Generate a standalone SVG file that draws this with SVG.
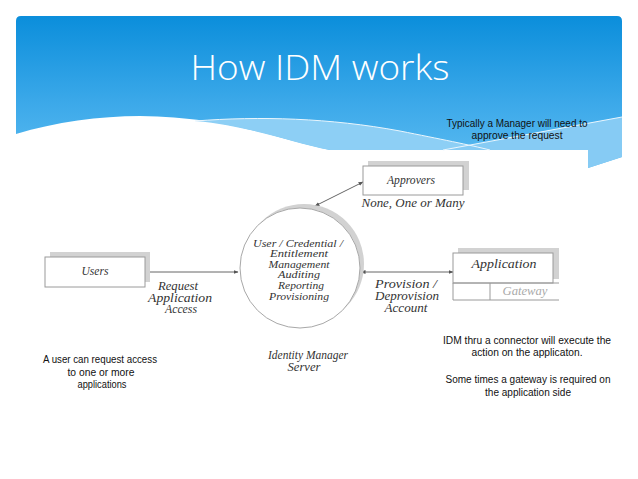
<svg xmlns="http://www.w3.org/2000/svg" width="638" height="479" viewBox="0 0 638 479">
<defs>
<linearGradient id="hdr" x1="0" y1="0" x2="0" y2="1" gradientUnits="objectBoundingBox">
<stop offset="0" stop-color="#0b8edb"/>
<stop offset="0.6" stop-color="#3eaaea"/>
<stop offset="1" stop-color="#5cbcf1"/>
</linearGradient>
<marker id="ah" viewBox="0 0 10 10" refX="9" refY="5" markerWidth="5" markerHeight="5" orient="auto-start-reverse" markerUnits="userSpaceOnUse">
<path d="M0,1 L10,5 L0,9 Z" fill="#555"/>
</marker>
<style>
.hand{font-family:"Liberation Serif","DejaVu Serif",serif;font-style:italic;fill:#333;font-size:11.5px;text-anchor:middle}
.inner{font-size:10.5px}
.note{font-family:"Liberation Sans","DejaVu Sans",sans-serif;fill:#111;font-size:10px;text-anchor:middle}
.box{fill:#fff;stroke:#9a9a9a;stroke-width:1}
.shadow{fill:#d2d2d2}
.conn{stroke:#666;stroke-width:1;fill:none;marker-start:url(#ah);marker-end:url(#ah)}
</style>
</defs>
<rect width="638" height="479" fill="#fff"/>
<g id="header">
<path d="M21,16 H617 Q622,16 622,21 V157 L588,168 V150 H330 C280,140 230,117 140,116 C100,116 55,122 16,134 V21 Q16,16 21,16 Z" fill="url(#hdr)"/>
<path d="M195,121 C260,116 330,118 400,131 C440,139 470,145 490,150 H330 C290,142 250,126 195,121 Z" fill="#8dcff5"/>
<path d="M443,150 L622,117 V157 L588,168 V150 Z" fill="#86cbf4"/>
<path d="M195,121 C260,116 330,118 400,131 C440,139 470,145 490,150" fill="none" stroke="#eaf6fd" stroke-width="1"/>
<path d="M443,150 L622,117" fill="none" stroke="#eaf6fd" stroke-width="1"/>
<text x="320" y="80" font-family="'Open Sans','Liberation Sans',sans-serif" font-weight="300" font-size="34" fill="#fff" text-anchor="middle" textLength="259" lengthAdjust="spacingAndGlyphs">How IDM works</text>
<text class="note" x="517" y="127" textLength="141" lengthAdjust="spacingAndGlyphs">Typically a Manager will need to</text>
<text class="note" x="517" y="139" textLength="91" lengthAdjust="spacingAndGlyphs">approve the request</text>
</g>
<g id="connectors">
<line class="conn" x1="145" y1="272" x2="238" y2="272"/>
<line class="conn" x1="361" y1="272" x2="453" y2="272"/>
<line class="conn" x1="315" y1="206" x2="363" y2="182"/>
</g>
<g id="approvers">
<rect class="shadow" x="368" y="161" width="101" height="29"/>
<rect class="box" x="363" y="166" width="100" height="29"/>
<text class="hand" x="411" y="184" textLength="48" lengthAdjust="spacingAndGlyphs">Approvers</text>
<text class="hand" x="413" y="207" font-size="12" textLength="103" lengthAdjust="spacingAndGlyphs">None, One or Many</text>
</g>
<g id="idm-server">
<circle cx="304" cy="264" r="60" fill="#d2d2d2"/>
<circle cx="300" cy="268" r="60" fill="#fff" stroke="#a8a8a8" stroke-width="1"/>
<text class="hand inner" x="298" y="247" textLength="90" lengthAdjust="spacingAndGlyphs">User / Credential /</text>
<text class="hand inner" x="299" y="257" textLength="58" lengthAdjust="spacingAndGlyphs">Entitlement</text>
<text class="hand inner" x="299" y="268" textLength="61" lengthAdjust="spacingAndGlyphs">Management</text>
<text class="hand inner" x="299" y="278" textLength="42" lengthAdjust="spacingAndGlyphs">Auditing</text>
<text class="hand inner" x="301" y="289" textLength="46" lengthAdjust="spacingAndGlyphs">Reporting</text>
<text class="hand inner" x="299" y="300" textLength="60" lengthAdjust="spacingAndGlyphs">Provisioning</text>
<text class="hand" x="308" y="359" textLength="80" lengthAdjust="spacingAndGlyphs">Identity Manager</text>
<text class="hand" x="304" y="371" textLength="33" lengthAdjust="spacingAndGlyphs">Server</text>
</g>
<g id="users">
<rect class="shadow" x="50" y="252" width="100" height="30"/>
<rect class="box" x="45" y="257" width="100" height="30"/>
<text class="hand" x="95" y="275" textLength="27" lengthAdjust="spacingAndGlyphs">Users</text>
</g>
<g id="request-label">
<text class="hand" x="178" y="290" textLength="40" lengthAdjust="spacingAndGlyphs">Request</text>
<text class="hand" x="180" y="302" textLength="64" lengthAdjust="spacingAndGlyphs">Application</text>
<text class="hand" x="181" y="313" textLength="32" lengthAdjust="spacingAndGlyphs">Access</text>
</g>
<g id="application">
<rect class="shadow" x="458" y="248" width="101" height="31"/>
<rect class="box" x="453" y="253" width="100" height="30"/>
<path d="M453,283 V300 H559 M453,283 H559 M490,283 V300" fill="none" stroke="#9a9a9a" stroke-width="1"/>
<text class="hand" x="504" y="268" textLength="65" lengthAdjust="spacingAndGlyphs">Application</text>
<text class="hand" x="525" y="295" style="fill:#aaa" textLength="45" lengthAdjust="spacingAndGlyphs">Gateway</text>
</g>
<g id="provision-label">
<text class="hand" x="406" y="288" textLength="62" lengthAdjust="spacingAndGlyphs">Provision /</text>
<text class="hand" x="407" y="300" textLength="64" lengthAdjust="spacingAndGlyphs">Deprovision</text>
<text class="hand" x="406" y="312" textLength="43" lengthAdjust="spacingAndGlyphs">Account</text>
</g>
<g id="notes">
<text class="note" x="100" y="363" textLength="114" lengthAdjust="spacingAndGlyphs">A user can request access</text>
<text class="note" x="101" y="376" textLength="67" lengthAdjust="spacingAndGlyphs">to one or more</text>
<text class="note" x="102" y="388" textLength="49" lengthAdjust="spacingAndGlyphs">applications</text>
<text class="note" x="527" y="344" textLength="168" lengthAdjust="spacingAndGlyphs">IDM thru a connector will execute the</text>
<text class="note" x="527" y="356" textLength="111" lengthAdjust="spacingAndGlyphs">action on the applicaton.</text>
<text class="note" x="528" y="383" textLength="165" lengthAdjust="spacingAndGlyphs">Some times a gateway is required on</text>
<text class="note" x="528" y="396" textLength="86" lengthAdjust="spacingAndGlyphs">the application side</text>
</g>
</svg>
